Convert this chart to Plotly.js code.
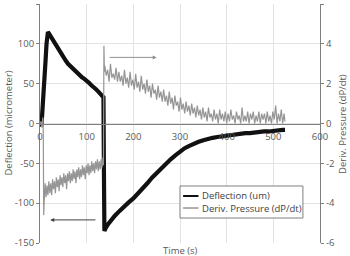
<!DOCTYPE html>
<html><head><meta charset="utf-8">
<script src="https://cdn.plot.ly/plotly-3.0.1.min.js"></script>
<style>html,body{margin:0;padding:0;background:#fff}#chart{width:350px;height:256px}</style>
</head><body><div id="chart"></div>
<script>
// Deflection (um), left axis
const defT = [0,2,3,4,5,6,7,8,10,12,14,16,17,19,22,25,30,35,40,45,50,55,60,65,70,75,80,85,90,95,100,105,110,115,120,125,130,134,136,137,138,140,145,150,160,170,180,190,200,210,220,230,240,250,260,270,280,290,300,310,320,330,340,350,360,370,380,390,400,410,420,430,440,450,460,470,480,490,500,510,520,525];
const defV = [0,5,-4,8,12,18,20,30,55,80,100,112,115,113,110,107,103,98,93,89,84,79,75,72,69,66,63,61,58,56,54,51,48,46,43,40,37,35,33,-60,-135,-132,-127,-123,-116,-110,-104,-99,-94,-88,-82,-75,-68,-62,-56,-50,-45,-40,-35,-31,-28,-25,-23,-21,-19,-18,-17,-16,-15,-14,-14,-13,-12,-12,-11,-11,-10,-10,-9,-9,-8,-8];
// Deriv. Pressure (dP/dt), right axis
const prsT = [0,2,4,6,7,8,9,11,13,15,17,19,21,23,25,27,29,31,33,35,37,39,41,43,45,47,49,51,53,55,57,59,61,63,65,67,69,71,73,75,77,79,81,83,85,87,89,91,93,95,97,99,101,103,105,107,109,111,113,115,117,119,121,123,125,127,129,131,133,135,136,
137,138,139,142,145,148,151,154,157,160,163,166,169,172,175,178,181,184,187,190,193,196,199,202,205,208,211,214,217,220,223,226,229,232,235,238,241,244,247,250,253,256,259,262,265,268,271,274,277,280,283,286,289,292,295,298,301,304,307,310,313,316,319,322,325,328,331,334,337,340,343,346,349,352,355,358,361,364,367,370,373,376,379,382,385,388,391,394,397,400,403,406,409,412,415,418,421,424,427,430,433,436,439,442,445,448,451,454,457,460,463,466,469,472,475,478,481,484,487,490,493,496,499,502,505,508,511,514,517,520,523,525];
const prsV = [0,0.1,-0.2,0.3,-0.5,-4.6,-3.9,-3.0,-3.7,-3.1,-3.6,-2.9,-3.5,-3.0,-3.6,-2.8,-3.3,-2.9,-3.5,-2.7,-3.2,-2.8,-3.4,-2.6,-3.1,-2.7,-3.2,-2.5,-3.0,-2.6,-3.3,-2.5,-2.9,-2.4,-3.0,-2.5,-2.9,-2.3,-2.8,-2.4,-3.0,-2.3,-2.7,-2.2,-2.8,-2.3,-2.7,-2.1,-2.6,-2.2,-2.8,-2.1,-2.5,-2.0,-2.6,-2.1,-2.5,-1.9,-2.4,-2.0,-2.5,-1.9,-2.3,-1.8,-2.4,-1.9,-2.3,-1.8,-2.2,-1.7,-2.1,
3.9,2.6,2.9,2.4,2.7,2.1,3.0,2.3,2.5,2.2,2.8,2.1,2.6,2.1,2.4,1.9,2.7,2.0,2.3,1.8,2.6,1.9,2.2,1.7,2.5,1.8,2.1,1.6,2.4,1.7,2.0,1.5,2.2,1.6,1.9,1.3,2.0,1.5,1.7,1.2,1.9,1.3,1.6,1.1,1.7,1.1,1.4,0.9,1.6,1.0,1.3,0.7,1.4,0.9,1.1,0.6,1.3,0.7,1.0,0.5,1.1,0.6,0.9,0.4,1.0,0.5,0.8,0.3,0.9,0.4,0.7,0.2,0.8,0.3,0.6,0.1,0.8,0.3,0.5,0.1,0.7,0.2,0.5,0.0,0.7,0.2,0.5,0.1,0.6,0.0,0.5,0.1,0.7,0.2,0.4,0.0,0.6,0.2,0.4,0.0,0.8,0.1,0.4,0.1,0.6,0.0,0.5,0.2,0.6,0.0,0.4,0.1,0.6,0.0,0.5,0.2,0.5,0.0,0.6,0.1,0.4,0.0,0.6,0.2,0.9,0.0,0.5,0.1,0.7,0.0,0.5,0.1];
const xTicks = [0,100,200,300,400,500,600];
const yTicks = [-150,-100,-50,0,50,100,150];
const y2Ticks = [-6,-4,-2,0,2,4,6];
const seriesNames = ['Deflection (um)', 'Deriv. Pressure (dP/dt)'];
const seriesColors = ['#111111', '#959595'];

const txt = '#595959';
const fam = 'Open Sans, Liberation Sans, sans-serif';
const fnt = {family:fam, size:9.5, color:txt};
const traces = [
  {x:defT, y:defV, type:'scatter', mode:'lines', name:seriesNames[0], line:{color:seriesColors[0], width:4.2}, yaxis:'y'},
  {x:prsT, y:prsV, type:'scatter', mode:'lines', name:seriesNames[1], line:{color:seriesColors[1], width:1.2}, yaxis:'y2'}
];
// custom compact legend (paper coords)
const lgX0 = 0.5, lgX1 = 0.939, lgY0 = 0.1046, lgY1 = 0.2385;
const rowY = [0.1967, 0.1464];
const shapes = [
  {type:'rect', xref:'paper', yref:'paper', x0:lgX0, x1:lgX1, y0:lgY0, y1:lgY1, line:{color:'#7f7f7f', width:1}, fillcolor:'#ffffff', layer:'above'}
];
const legendAnn = [];
seriesNames.forEach((n,i)=>{
  shapes.push({type:'line', xref:'paper', yref:'paper', x0:0.511, x1:0.566, y0:rowY[i], y1:rowY[i], line:{color:seriesColors[i], width:i===0?2:1.5}, layer:'above'});
  legendAnn.push({xref:'paper', yref:'paper', x:0.571, y:rowY[i], text:n, showarrow:false, xanchor:'left', yanchor:'middle', font:{family:fam, size:9.5, color:'#404040'}});
});
const layout = {
  width:350, height:256,
  margin:{l:40, r:30, t:4, b:13},
  paper_bgcolor:'#fff', plot_bgcolor:'#fff',
  font:fnt,
  showlegend:false,
  xaxis:{range:[0,600], tickvals:xTicks, ticktext:xTicks.map(String), anchor:'free', position:0.5, showline:true, linecolor:'#7f7f7f', linewidth:1, showgrid:true, gridcolor:'#e3e3e3', zeroline:false, ticks:'', ticklabelstandoff:4, tickfont:fnt, automargin:false},
  yaxis:{range:[-150,150], tickvals:yTicks, ticktext:yTicks.map(String), showline:true, linecolor:'#7f7f7f', showgrid:true, gridcolor:'#e3e3e3', zeroline:false, ticks:'outside', ticklen:3, tickcolor:'#7f7f7f', tickfont:fnt, automargin:false},
  yaxis2:{range:[-6,6], tickvals:y2Ticks, ticktext:y2Ticks.map(String), overlaying:'y', side:'right', showline:true, linecolor:'#7f7f7f', showgrid:false, zeroline:false, ticks:'outside', ticklen:3, tickcolor:'#7f7f7f', tickfont:fnt, automargin:false},
  shapes:shapes,
  annotations:[
    {xref:'paper', yref:'paper', x:-0.114, y:0.5, text:'Deflection (micrometer)', textangle:-90, showarrow:false, font:fnt, xanchor:'center', yanchor:'middle'},
    {xref:'paper', yref:'paper', x:1.08, y:0.5, text:'Deriv. Pressure (dP/dt)', textangle:-90, showarrow:false, font:fnt, xanchor:'center', yanchor:'middle'},
    {xref:'paper', yref:'paper', x:0.5, y:-0.03, text:'Time (s)', showarrow:false, font:fnt, xanchor:'center', yanchor:'middle'},
    {xref:'x', yref:'y', x:22, y:-121, axref:'x', ayref:'y', ax:122, ay:-121, text:'', showarrow:true, arrowhead:2, arrowsize:0.8, arrowwidth:1, arrowcolor:'#404040'},
    {xref:'x', yref:'y', x:250, y:83, axref:'x', ayref:'y', ax:146, ay:83, text:'', showarrow:true, arrowhead:2, arrowsize:0.8, arrowwidth:1, arrowcolor:'#909090'}
  ].concat(legendAnn)
};
Plotly.newPlot('chart', traces, layout, {displayModeBar:false, staticPlot:true});
</script>
</body></html>
